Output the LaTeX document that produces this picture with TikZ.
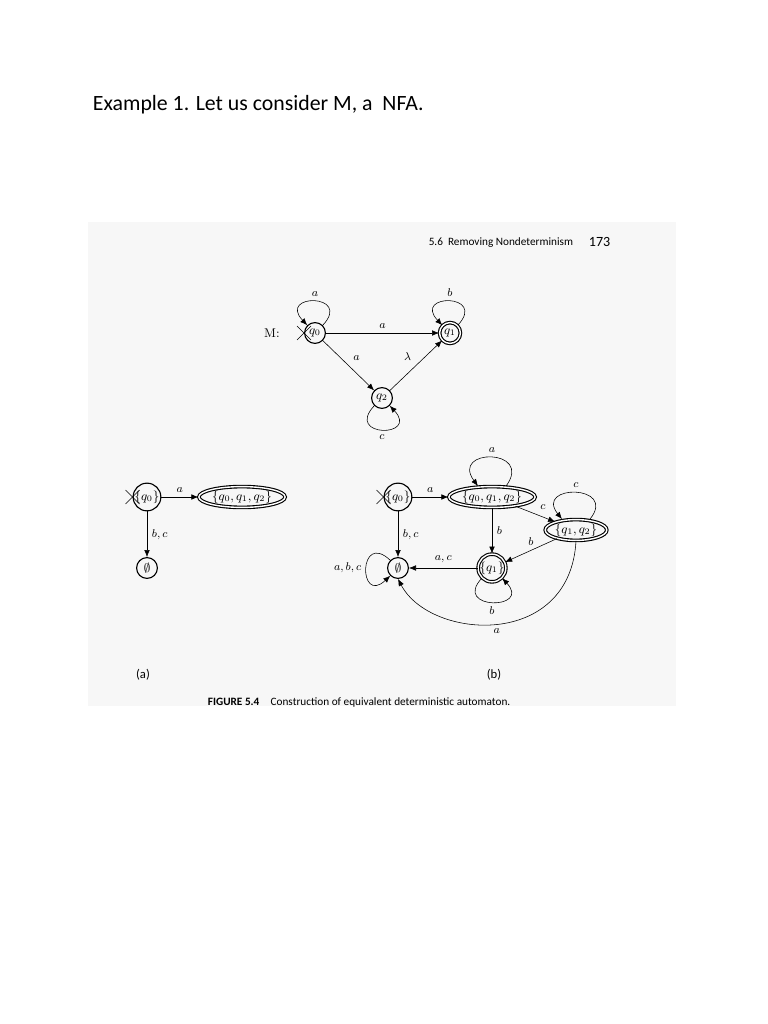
\documentclass[tikz,border=0pt]{standalone}
\usepackage{fontspec}
\setsansfont{Carlito}
\usetikzlibrary{shapes.geometric,arrows.meta}
\tikzset{
  st/.style={circle, draw, thick, inner sep=0pt, minimum size=0.52cm, font=\small},
  acc/.style={st, double, double distance=1pt},
  setst/.style={ellipse, draw, thick, inner sep=0.5pt, minimum height=0.52cm, font=\small},
  setacc/.style={setst, double, double distance=1pt},
  lbl/.style={font=\footnotesize},
  edge/.style={-{Latex[length=5pt,width=4pt]}, thin},
}
\newcommand{\startmark}[1]{%
  \draw (#1.west) ++(-7,-7) -- ++(14,14);
  \draw (#1.west) ++(-7,7) -- ++(14,-14);}
\begin{document}
\begin{tikzpicture}[x=0.025cm, y=-0.025cm]
  \useasboundingbox (0,0) rectangle (768,1024);
  \fill[black!3] (88,222) rectangle (676,706);

  % Titel en kop
  \node[anchor=west, font=\sffamily\fontsize{15.5}{18}\selectfont] (title) at (88,105) {Example 1. Let us consider M, a\ \ NFA.};
  \node[anchor=east, font=\sffamily\footnotesize] (head) at (578,243) {5.6\ \ Removing Nondeterminism};
  \node[anchor=west, font=\sffamily\normalsize] (page) at (584,242) {173};

  % NFA M
  \node (M) at (272,333) {\small M:};
  \node[st] (q0) at (315,333) {$q_0$};
  \node[acc] (q1) at (450,333) {$q_1$};
  \node[st] (q2) at (382,398) {$q_2$};
  \startmark{q0}
  \draw[edge] (q0.north east) .. controls +(30,-32) and +(-30,-32) .. node[lbl, above] {$a$} (q0.north west);
  \draw[edge] (q1.north east) .. controls +(30,-32) and +(-30,-32) .. node[lbl, above] {$b$} (q1.north west);
  \draw[edge] (q2.south west) .. controls +(-30,32) and +(30,32) .. node[lbl, below] {$c$} (q2.south east);
  \draw[edge] (q0) -- node[lbl, above] {$a$} (q1);
  \draw[edge] (q0) -- node[lbl, above right, pos=0.5] {$a$} (q2);
  \draw[edge] (q2) -- node[lbl, above left, pos=0.5] {$\lambda$} (q1);

  % (a)
  \node[st] (a0) at (147,497) {$\{q_0\}$};
  \node[setacc] (a012) at (242,497) {$\{q_0, q_1, q_2\}$};
  \node[st] (aE) at (147,568) {$\emptyset$};
  \startmark{a0}
  \draw[edge] (a0) -- node[lbl, above] {$a$} (a012);
  \draw[edge] (a0) -- node[lbl, right] {$b, c$} (aE);
  \node[font=\sffamily\small] (capa) at (143,675) {(a)};

  % (b)
  \node[st] (b0) at (398,497) {$\{q_0\}$};
  \node[setacc] (b012) at (492,497) {$\{q_0, q_1, q_2\}$};
  \node[setacc] (b12) at (576,530) {$\{q_1, q_2\}$};
  \node[acc] (b1) at (492,568) {$\{q_1\}$};
  \node[st] (bE) at (398,568) {$\emptyset$};
  \startmark{b0}
  \draw[edge] (b0) -- node[lbl, above] {$a$} (b012);
  \draw[edge] (b0) -- node[lbl, right] {$b, c$} (bE);
  \draw[edge] ([xshift=10]b012.north) .. controls +(28,-38) and +(-28,-38) .. node[lbl, above] {$a$} ([xshift=-10]b012.north);
  \draw[edge] (b012) -- node[lbl, above right] {$c$} (b12);
  \draw[edge] (b012) -- node[lbl, right] {$b$} (b1);
  \draw[edge] ([xshift=10]b12.north) .. controls +(28,-35) and +(-28,-35) .. node[lbl, above] {$c$} ([xshift=-10]b12.north);
  \draw[edge] (b12) -- node[lbl, above] {$b$} (b1);
  \draw[edge] (b1) -- node[lbl, above] {$a, c$} (bE);
  \draw[edge] (b1.south west) .. controls +(-30,32) and +(30,32) .. node[lbl, below] {$b$} (b1.south east);
  \draw[edge] (bE.north west) .. controls +(-32,-30) and +(-32,30) .. node[lbl, left] {$a, b, c$} (bE.south west);
  \draw[edge] (b12.south) .. controls (570,650) and (430,640) .. node[lbl, below] {$a$} (bE.south);
  \node[font=\sffamily\small] (capb) at (494,675) {(b)};

  % onderschrift
  \node[anchor=west, font=\sffamily\footnotesize] (cap) at (203,702) {\textbf{FIGURE 5.4}\quad Construction of equivalent deterministic automaton.};
\end{tikzpicture}
\end{document}
